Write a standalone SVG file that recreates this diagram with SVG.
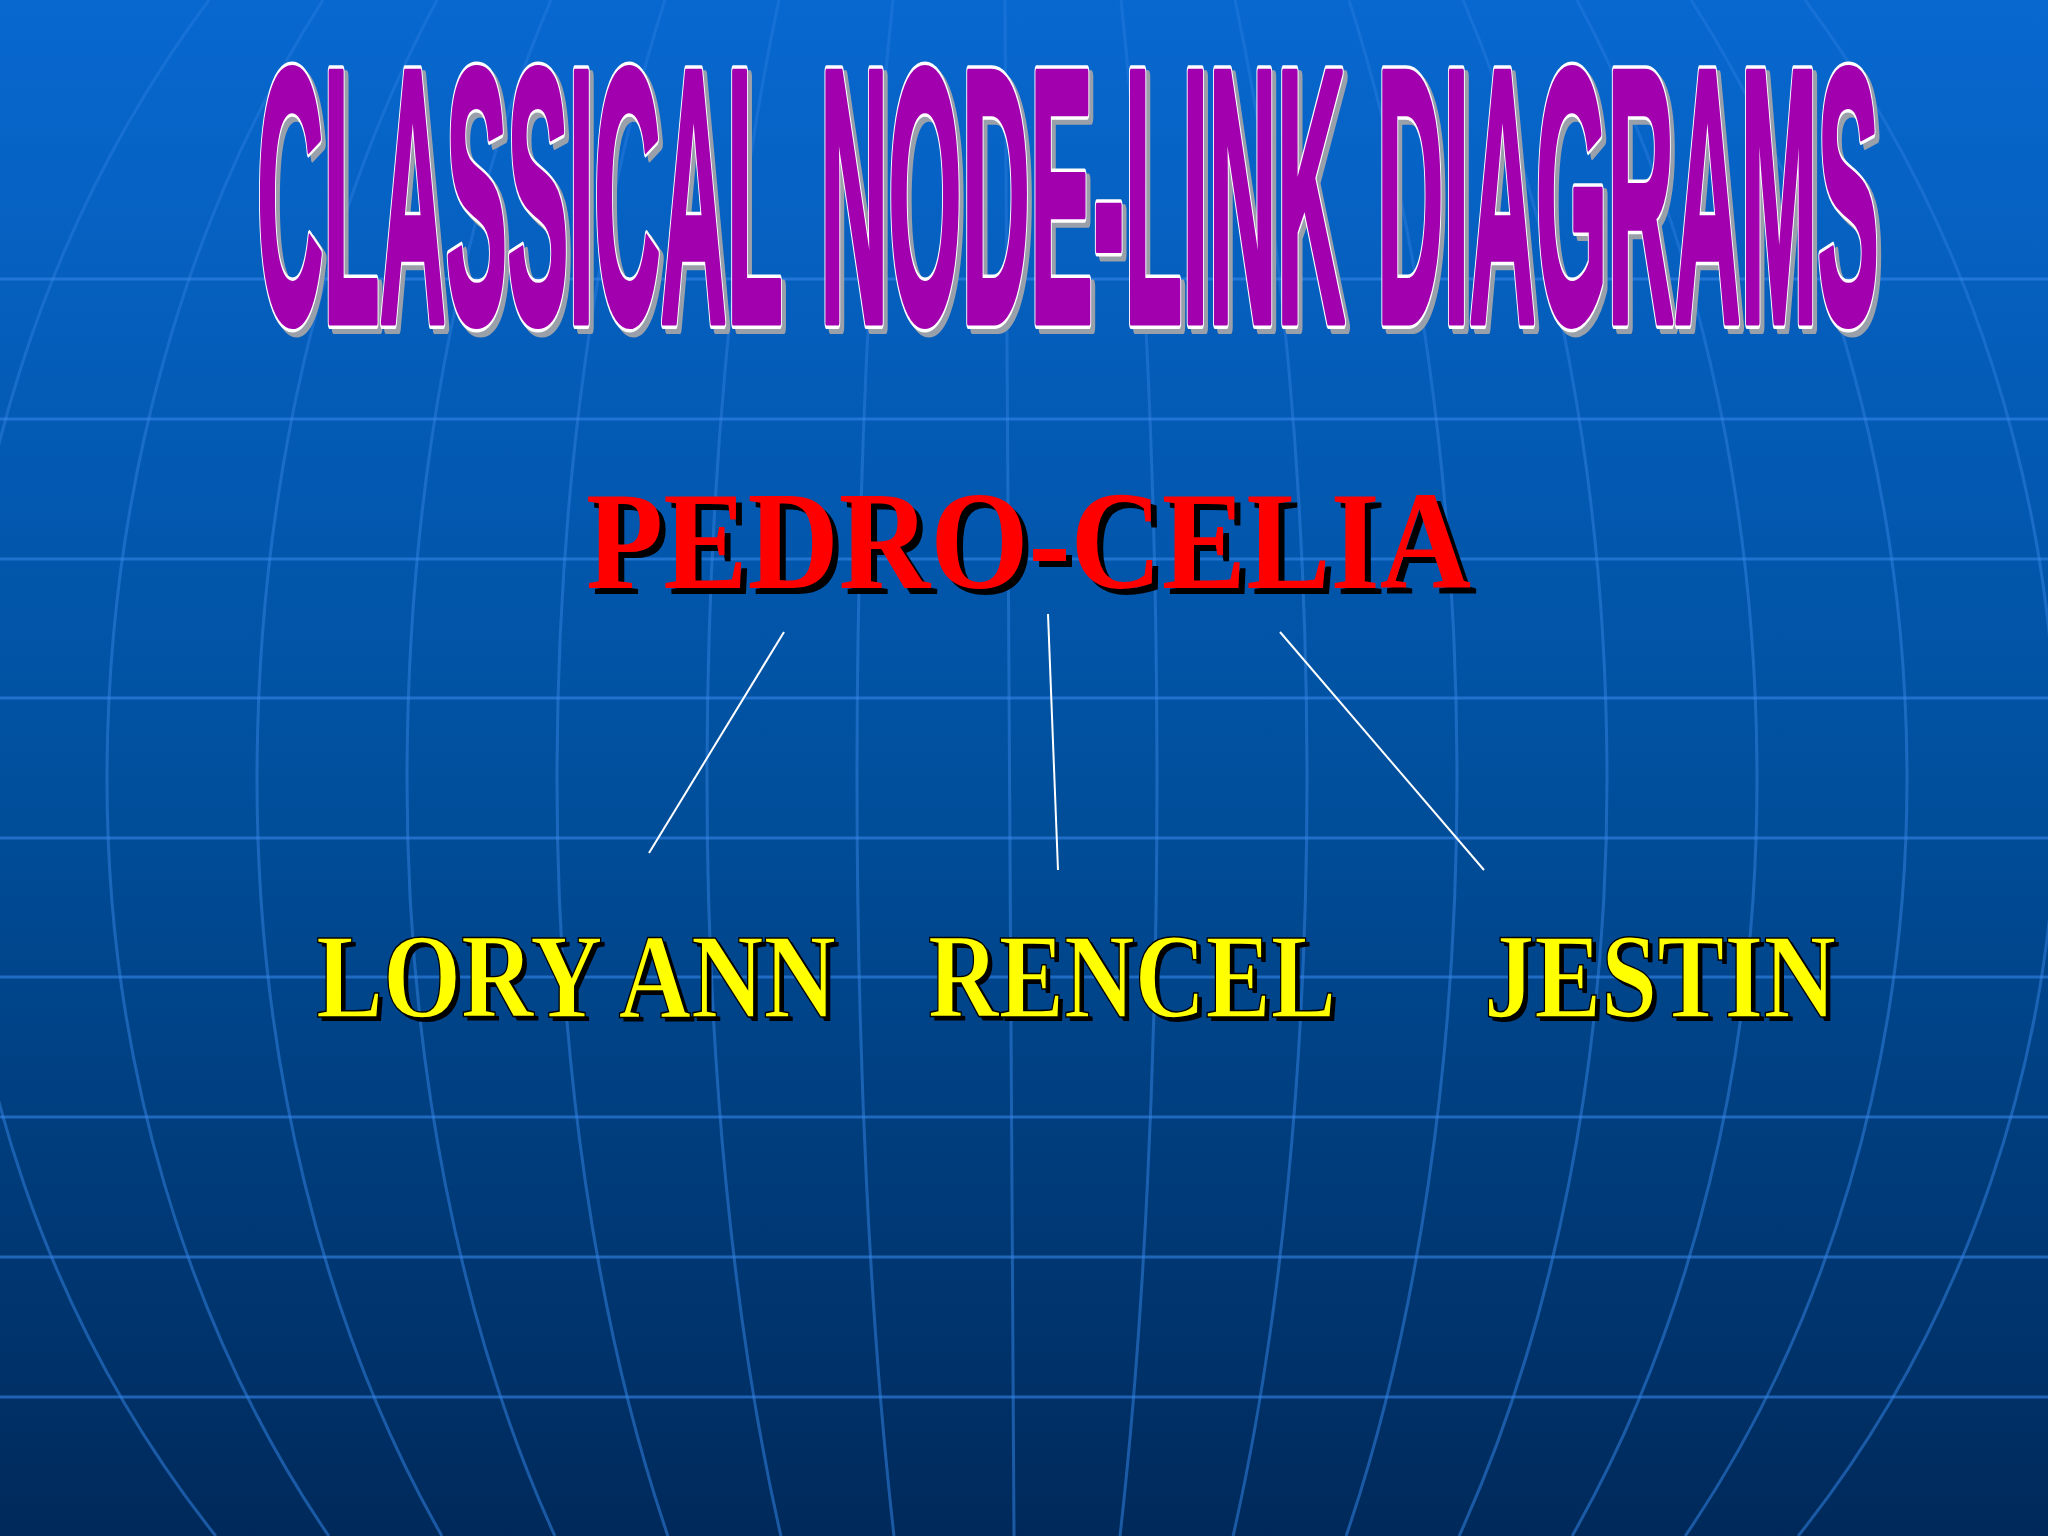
<svg xmlns="http://www.w3.org/2000/svg" width="2048" height="1536" viewBox="0 0 2048 1536">
<defs>
<linearGradient id="bg" x1="0" y1="0" x2="0" y2="1">
<stop offset="0" stop-color="#0868d0"/>
<stop offset="0.5" stop-color="#00509e"/>
<stop offset="1" stop-color="#00295a"/>
</linearGradient>
<linearGradient id="mg" gradientUnits="userSpaceOnUse" x1="0" y1="0" x2="0" y2="1536">
<stop offset="0" stop-color="#3a88e8" stop-opacity="0.28"/>
<stop offset="0.4" stop-color="#3a88e8" stop-opacity="0.45"/>
<stop offset="1" stop-color="#3080e0" stop-opacity="0.55"/>
</linearGradient>
</defs>
<style>
.h{stroke:#3686e8;stroke-opacity:0.6;stroke-width:3;fill:none}
.m{stroke:url(#mg);stroke-width:3;fill:none}
.title{font-family:"Liberation Sans Narrow","Liberation Sans",Arial,sans-serif;font-weight:bold;font-size:363px}
.tsh{fill:#9aa0aa;stroke:#9aa0aa;stroke-width:14;stroke-linejoin:round}
.twh{fill:#ffffff;stroke:#ffffff;stroke-width:14;stroke-linejoin:round}
.tin{fill:#a200ae;stroke:#a200ae;stroke-width:7;stroke-linejoin:round}
.pc{font-family:"Liberation Serif","DejaVu Serif",serif;font-weight:bold;font-size:140px}
.lab{font-family:"Liberation Serif","DejaVu Serif",serif;font-weight:bold;font-size:120px}
.sh{fill:#000000}
.red{fill:#ff0000}
.yel{fill:#ffff00;stroke:#000000;stroke-width:1.5}
.link{stroke:#ffffff;stroke-width:2;fill:none}
</style>
<g id="background">
<rect x="0" y="0" width="2048" height="1536" fill="url(#bg)"/>
<g id="parallels">
<line class="h" x1="0" y1="279" x2="2048" y2="279"/>
<line class="h" x1="0" y1="419" x2="2048" y2="419"/>
<line class="h" x1="0" y1="559" x2="2048" y2="559"/>
<line class="h" x1="0" y1="698" x2="2048" y2="698"/>
<line class="h" x1="0" y1="838" x2="2048" y2="838"/>
<line class="h" x1="0" y1="977" x2="2048" y2="977"/>
<line class="h" x1="0" y1="1117" x2="2048" y2="1117"/>
<line class="h" x1="0" y1="1257" x2="2048" y2="1257"/>
<line class="h" x1="0" y1="1397" x2="2048" y2="1397"/>
</g>
<g id="meridians">
<path class="m" d="M1005,0 L1014,1536"/>
<path class="m" d="M1121,0 A150,1200 0 0 1 1157,780 A150,1150 0 0 1 1120,1536"/>
<path class="m" d="M1235,0 A300,1200 0 0 1 1307,780 A300,1150 0 0 1 1233.1,1536"/>
<path class="m" d="M1349,0 A450,1200 0 0 1 1457,780 A450,1150 0 0 1 1346.1,1536"/>
<path class="m" d="M1463,0 A600,1200 0 0 1 1607,780 A600,1150 0 0 1 1459.1,1536"/>
<path class="m" d="M1577,0 A750,1200 0 0 1 1757,780 A750,1150 0 0 1 1572.1,1536"/>
<path class="m" d="M1691,0 A900,1200 0 0 1 1907,780 A900,1150 0 0 1 1685.2,1536"/>
<path class="m" d="M1805,0 A1050,1200 0 0 1 2057,780 A1050,1150 0 0 1 1798.2,1536"/>
<path class="m" d="M893,0 A150,1200 0 0 0 857,780 A150,1150 0 0 0 894,1536"/>
<path class="m" d="M779,0 A300,1200 0 0 0 707,780 A300,1150 0 0 0 780.9,1536"/>
<path class="m" d="M665,0 A450,1200 0 0 0 557,780 A450,1150 0 0 0 667.9,1536"/>
<path class="m" d="M551,0 A600,1200 0 0 0 407,780 A600,1150 0 0 0 554.9,1536"/>
<path class="m" d="M437,0 A750,1200 0 0 0 257,780 A750,1150 0 0 0 441.9,1536"/>
<path class="m" d="M323,0 A900,1200 0 0 0 107,780 A900,1150 0 0 0 328.8,1536"/>
<path class="m" d="M209,0 A1050,1200 0 0 0 -43,780 A1050,1150 0 0 0 215.8,1536"/>
</g>
</g>
<g id="title" class="title">
<text class="tsh" transform="translate(4,5)" y="322"><tspan x="257" textLength="526" lengthAdjust="spacingAndGlyphs">CLASSICAL</tspan><tspan x="820" textLength="525" lengthAdjust="spacingAndGlyphs">NODE-LINK</tspan><tspan x="1377" textLength="502" lengthAdjust="spacingAndGlyphs">DIAGRAMS</tspan></text>
<text class="twh" y="322"><tspan x="257" textLength="526" lengthAdjust="spacingAndGlyphs">CLASSICAL</tspan><tspan x="820" textLength="525" lengthAdjust="spacingAndGlyphs">NODE-LINK</tspan><tspan x="1377" textLength="502" lengthAdjust="spacingAndGlyphs">DIAGRAMS</tspan></text>
<text class="tin" y="322"><tspan x="257" textLength="526" lengthAdjust="spacingAndGlyphs">CLASSICAL</tspan><tspan x="820" textLength="525" lengthAdjust="spacingAndGlyphs">NODE-LINK</tspan><tspan x="1377" textLength="502" lengthAdjust="spacingAndGlyphs">DIAGRAMS</tspan></text>
</g>
<g id="connectors">
<line class="link" x1="784" y1="632" x2="649" y2="853"/>
<line class="link" x1="1048" y1="614" x2="1058" y2="870"/>
<line class="link" x1="1280" y1="632" x2="1484" y2="870"/>
</g>
<g id="node-pedro-celia" class="pc">
<text class="sh" x="592" y="594" textLength="885" lengthAdjust="spacingAndGlyphs">PEDRO-CELIA</text>
<text class="red" x="586" y="588" textLength="885" lengthAdjust="spacingAndGlyphs">PEDRO-CELIA</text>
</g>
<g id="node-lory-ann" class="lab">
<text class="sh" x="320" y="1021" textLength="520" lengthAdjust="spacingAndGlyphs">LORY ANN</text>
<text class="yel" x="316" y="1017" textLength="520" lengthAdjust="spacingAndGlyphs">LORY ANN</text>
</g>
<g id="node-rencel" class="lab">
<text class="sh" x="932" y="1021" textLength="408" lengthAdjust="spacingAndGlyphs">RENCEL</text>
<text class="yel" x="928" y="1017" textLength="408" lengthAdjust="spacingAndGlyphs">RENCEL</text>
</g>
<g id="node-jestin" class="lab">
<text class="sh" x="1488" y="1021" textLength="352" lengthAdjust="spacingAndGlyphs">JESTIN</text>
<text class="yel" x="1484" y="1017" textLength="352" lengthAdjust="spacingAndGlyphs">JESTIN</text>
</g>
</svg>
